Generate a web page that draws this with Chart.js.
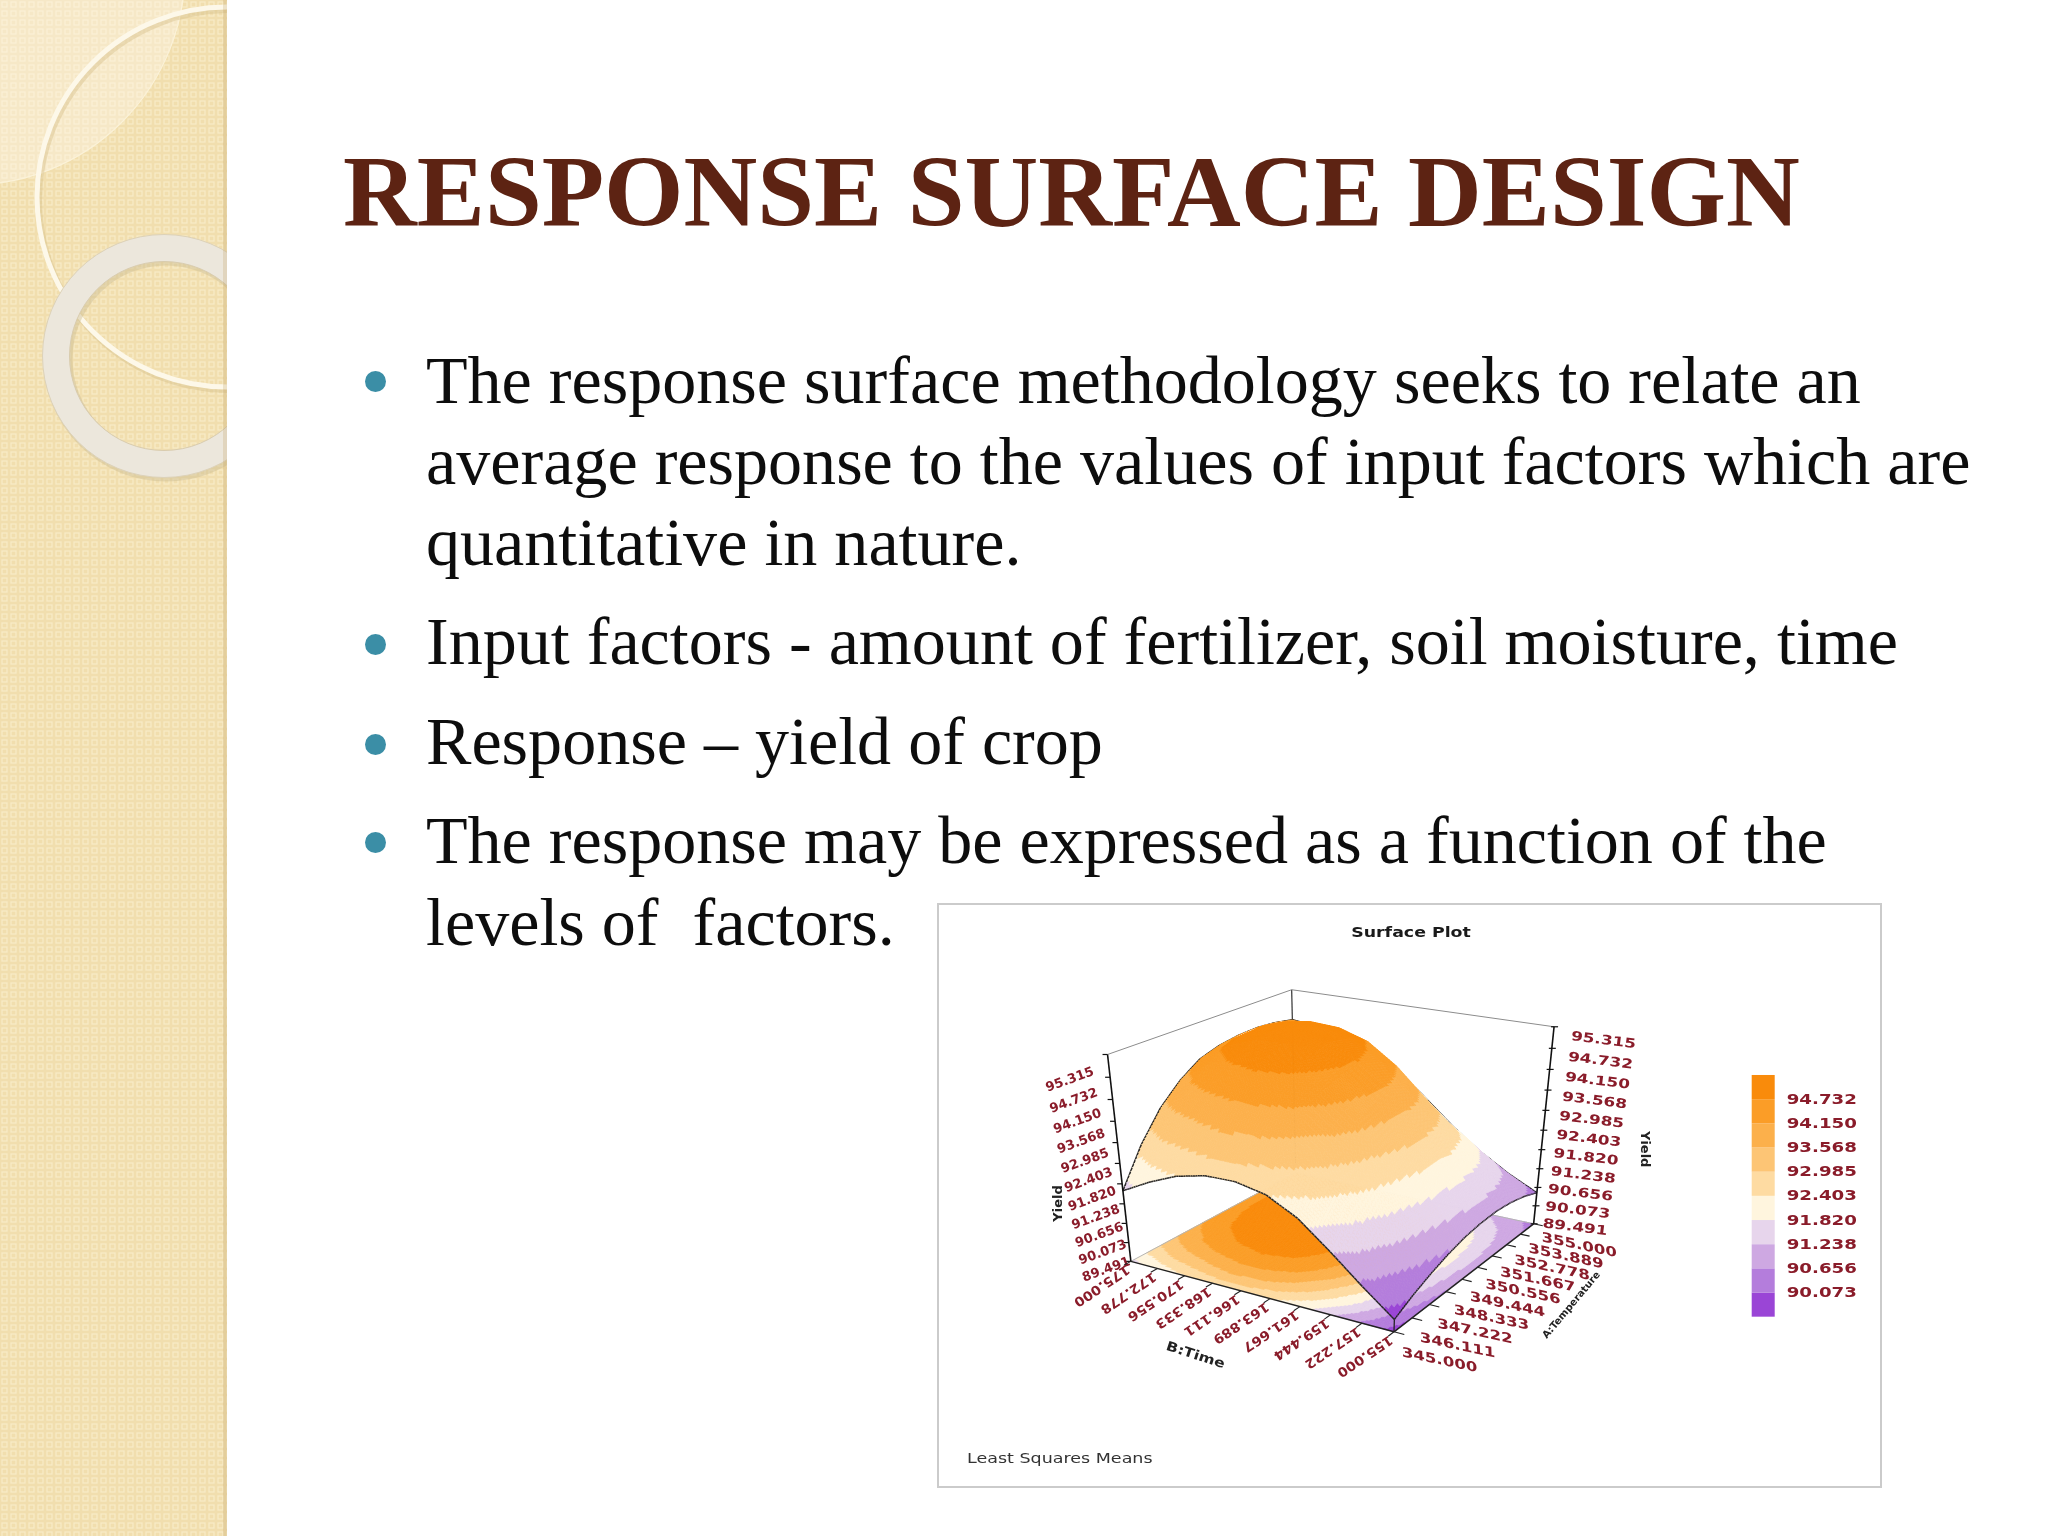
<!DOCTYPE html>
<html>
<head>
<meta charset="utf-8">
<title>Response Surface Design</title>
<script src="https://cdn.jsdelivr.net/npm/chart.js@4.4.1/dist/chart.umd.min.js"></script>
<style>
  html, body { margin: 0; padding: 0; background: #fff; }
  #slide { position: relative; width: 2048px; height: 1536px; overflow: hidden; background: #fff; }
  #strip { position: absolute; left: 0; top: 0; width: 227px; height: 1536px; }
  .txt { position: absolute; white-space: pre; line-height: 1; font-family: "Liberation Serif", "Times New Roman", serif; color: #0d0d0d; }
  #title { font-weight: bold; color: #5d2313; }
  .dot { position: absolute; width: 21px; height: 21px; border-radius: 50%; background: #3b8ea6; }
  #plotFrame { position: absolute; left: 937px; top: 903px; width: 941px; height: 581px; border: 2px solid #cbcbcb; background: #fff; }
  #plotFrame canvas { display: block; }
</style>
</head>
<body>
<div id="slide">
  <div id="strip">
    <svg width="227" height="1536" xmlns="http://www.w3.org/2000/svg">
      <defs>
        <pattern id="weave" width="9" height="9" patternUnits="userSpaceOnUse">
          <rect width="9" height="9" fill="#f1deae"/>
          <rect x="2" y="2" width="5" height="5" fill="none" stroke="#f8ebc6" stroke-width="1.3"/>
        </pattern>
      </defs>
      <rect width="227" height="1536" fill="url(#weave)"/>
      <circle cx="-30" cy="-30" r="215" fill="rgba(255,251,238,0.38)" stroke="#fbf2d8" stroke-width="1.2"/>
      <circle cx="229" cy="200" r="190" fill="none" stroke="#d6c08c" stroke-width="6" opacity="0.45"/>
      <circle cx="227" cy="197" r="190" fill="none" stroke="#fdf8e9" stroke-width="5"/>
      <circle cx="166" cy="359" r="108" fill="none" stroke="#cdbd93" stroke-width="29" opacity="0.45"/>
      <circle cx="164" cy="356" r="108" fill="none" stroke="#ece7dc" stroke-width="27"/>
      <circle cx="164" cy="356" r="94.5" fill="none" stroke="#d9ccae" stroke-width="1"/>
      <circle cx="164" cy="356" r="121.5" fill="none" stroke="#ddd2b8" stroke-width="1"/>
      <rect x="223" y="0" width="4" height="1536" fill="rgba(190,160,100,0.25)"/>
    </svg>
  </div>

  <div id="title" class="txt">RESPONSE SURFACE DESIGN</div>

  <div class="dot" style="left:365px;top:371px"></div>
  <div class="dot" style="left:365px;top:634px"></div>
  <div class="dot" style="left:365px;top:734px"></div>
  <div class="dot" style="left:365px;top:832px"></div>

  <div class="txt line" data-base="402.6">The response surface methodology seeks to relate an</div>
  <div class="txt line" data-base="484">average response to the values of input factors which are</div>
  <div class="txt line" data-base="565.5">quantitative in nature.</div>
  <div class="txt line" data-base="664.4">Input factors - amount of fertilizer, soil moisture, time</div>
  <div class="txt line" data-base="764">Response – yield of crop</div>
  <div class="txt line" data-base="863.3">The response may be expressed as a function of the</div>
  <div class="txt line" data-base="945.4">levels of  factors.</div>

  <div id="plotFrame"><canvas id="surfaceChart" width="941" height="581"></canvas></div>
</div>

<script>
// factor levels and response ticks as printed on the plot
const temperatureTicks = [345.000, 346.111, 347.222, 348.333, 349.444, 350.556, 351.667, 352.778, 353.889, 355.000];
const timeTicks = [155.000, 157.222, 159.444, 161.667, 163.889, 166.111, 168.333, 170.556, 172.778, 175.000];
const yieldTicks = [89.491, 90.073, 90.656, 91.238, 91.820, 92.403, 92.985, 93.568, 94.150, 94.732, 95.315];

// yield: one row per time level, across the temperature levels
const yieldTime155 = [89.85, 90.15, 90.40, 90.60, 90.75, 90.83, 90.85, 90.80, 90.68, 90.49];
const yieldTime157 = [90.55, 91.10, 91.50, 91.76, 91.94, 92.00, 91.92, 91.71, 91.37, 90.90];
const yieldTime159 = [91.30, 92.04, 92.52, 92.84, 93.04, 93.06, 92.90, 92.57, 92.07, 91.40];
const yieldTime162 = [92.00, 92.82, 93.39, 93.76, 93.98, 93.98, 93.77, 93.37, 92.60, 92.00];
const yieldTime164 = [92.45, 93.39, 94.05, 94.44, 94.65, 94.68, 94.50, 94.13, 93.30, 92.70];
const yieldTime166 = [92.62, 93.67, 94.40, 94.83, 95.07, 95.14, 95.00, 94.69, 93.95, 93.40];
const yieldTime168 = [92.60, 93.73, 94.50, 94.95, 95.15, 95.16, 95.16, 94.95, 94.30, 93.85];
const yieldTime171 = [92.40, 93.46, 94.28, 94.84, 95.12, 95.16, 95.15, 95.00, 94.66, 94.15];
const yieldTime173 = [92.05, 93.15, 93.97, 94.52, 94.82, 94.96, 94.98, 94.88, 94.67, 94.34];
const yieldTime175 = [91.62, 92.65, 93.42, 93.95, 94.32, 94.49, 94.57, 94.59, 94.54, 94.43];
const yieldRows = [yieldTime155, yieldTime157, yieldTime159, yieldTime162, yieldTime164,
                   yieldTime166, yieldTime168, yieldTime171, yieldTime173, yieldTime175];

// contour band colours, lowest band first
const bandColors = ['#9a45d6', '#b47ddc', '#cea8e2', '#e7d5ec', '#fff5de',
                    '#fedba2', '#fdc575', '#fcb04b', '#fb9d27', '#f98b0b'];

// ---- text layout (fit the serif text to the slide) ----
function fitSize(text, weight, target) {
  const c = document.createElement('canvas').getContext('2d');
  c.font = weight + ' 100px "Liberation Serif"';
  return 100 * target / c.measureText(text).width;
}
const titleEl = document.getElementById('title');
const titleSize = fitSize(titleEl.textContent, 'bold', 1457);
titleEl.style.fontSize = titleSize + 'px';
titleEl.style.left = '343px';
titleEl.style.top = (227 - 0.8375 * titleSize) + 'px';

const lines = document.querySelectorAll('.line');
const bodySize = fitSize(lines[0].textContent, 'normal', 1435);
lines.forEach(el => {
  el.style.fontSize = bodySize + 'px';
  el.style.left = '426px';
  el.style.top = (parseFloat(el.dataset.base) - 0.8375 * bodySize) + 'px';
});

// ---- 3D view (the printed plot is stretched sideways, so x and y scales differ) ----
const DEG = Math.PI / 180;
const view = { azimuth: 58.5, elevation: 27, distance: 4.5, height: 1.02 };
const ca = Math.cos(view.azimuth * DEG), sa = Math.sin(view.azimuth * DEG);
const ce = Math.cos(view.elevation * DEG), se = Math.sin(view.elevation * DEG);
const camRight = [ca, -sa, 0];
const camFwd = [sa * ce, ca * ce, -se];
const camUp = [sa * se, ca * se, ce];
const eye = camFwd.map(v => -v * view.distance);

// a, b, z all in 0..1 across the box
function project(a, b, z) {
  const px = a - 0.5 - eye[0], py = b - 0.5 - eye[1], pz = (z - 0.5) * view.height - eye[2];
  const d = px * camFwd[0] + py * camFwd[1] + pz * camFwd[2];
  const u = (px * camRight[0] + py * camRight[1]) / d;
  const v = (px * camUp[0] + py * camUp[1] + pz * camUp[2]) / d;
  return { u, v, d };
}

function yieldAt(a, b) {
  const ni = temperatureTicks.length - 1, nj = timeTicks.length - 1;
  const fi = a * ni, fj = b * nj;
  const i = Math.min(ni - 1, Math.floor(fi)), j = Math.min(nj - 1, Math.floor(fj));
  const ta = fi - i, tb = fj - j;
  const r0 = yieldRows[j], r1 = yieldRows[j + 1];
  return (r0[i] * (1 - ta) + r0[i + 1] * ta) * (1 - tb) + (r1[i] * (1 - ta) + r1[i + 1] * ta) * tb;
}

const SUB = 12;

const surfacePlot = {
  id: 'surfacePlot',
  afterDraw(chart) {
    const ctx = chart.ctx;
    const xs = chart.scales.x, ys = chart.scales.y, cs = chart.scales.c;
    const zLo = yieldTicks[0], zHi = yieldTicks[yieldTicks.length - 1];
    const zOf = v => (v - zLo) / (zHi - zLo);
    const pt = (a, b, z) => {
      const p = project(a, b, z);
      return [xs.getPixelForValue(p.u), ys.getPixelForValue(p.v), p.d];
    };
    const band = v => bandColors[Math.max(0, Math.min(bandColors.length - 1,
      Math.floor(zOf(v) * bandColors.length)))];

    const seg = (p, q, color, w) => {
      ctx.beginPath(); ctx.moveTo(p[0], p[1]); ctx.lineTo(q[0], q[1]);
      ctx.strokeStyle = color; ctx.lineWidth = w; ctx.stroke();
    };
    const quad = (p) => {
      ctx.beginPath(); ctx.moveTo(p[0][0], p[0][1]);
      for (let k = 1; k < 4; k++) ctx.lineTo(p[k][0], p[k][1]);
      ctx.closePath();
    };
    const area = (p) => {
      let s = 0;
      for (let k = 0; k < 4; k++) { const q = p[k], r = p[(k + 1) % 4]; s += q[0] * r[1] - r[0] * q[1]; }
      return s;
    };

    const n = (temperatureTicks.length - 1) * SUB;
    const m = (timeTicks.length - 1) * SUB;
    const vals = [], floorV = [], surfV = [];
    for (let j = 0; j <= m; j++) {
      vals.push([]); floorV.push([]); surfV.push([]);
      for (let i = 0; i <= n; i++) {
        const a = i / n, b = j / m, v = yieldAt(a, b);
        vals[j].push(v);
        floorV[j].push(pt(a, b, 0));
        surfV[j].push(pt(a, b, zOf(v)));
      }
    }

    ctx.save();
    ctx.lineJoin = 'round';

    // back of the box
    seg(pt(1, 1, 0), pt(1, 1, 1), '#333', 1.2);
    seg(pt(0, 1, 1), pt(1, 1, 1), '#8c8c8c', 1);
    seg(pt(1, 1, 1), pt(1, 0, 1), '#8c8c8c', 1);

    // contour map on the floor
    for (let j = 0; j < m; j++) {
      for (let i = 0; i < n; i++) {
        const c = band((vals[j][i] + vals[j][i + 1] + vals[j + 1][i] + vals[j + 1][i + 1]) / 4);
        quad([floorV[j][i], floorV[j][i + 1], floorV[j + 1][i + 1], floorV[j + 1][i]]);
        ctx.fillStyle = c; ctx.fill();
        ctx.strokeStyle = c; ctx.lineWidth = 0.7; ctx.stroke();
      }
    }
    seg(pt(0, 1, 0), pt(1, 1, 0), '#b5b5b5', 1);
    seg(pt(1, 1, 0), pt(1, 0, 0), '#b5b5b5', 1);

    // surface, far cells first
    const topSign = Math.sign(area([floorV[0][0], floorV[0][n], floorV[m][n], floorV[m][0]]));
    const cells = [];
    for (let j = 0; j < m; j++) {
      for (let i = 0; i < n; i++) {
        const p = [surfV[j][i], surfV[j][i + 1], surfV[j + 1][i + 1], surfV[j + 1][i]];
        cells.push({ i, j, p, d: (p[0][2] + p[1][2] + p[2][2] + p[3][2]) / 4 });
      }
    }
    cells.sort((A, B) => B.d - A.d);
    const edgeCol = '#262626';
    cells.forEach(cell => {
      const { i, j, p } = cell;
      const up = Math.sign(area(p)) === topSign;
      const c = up ? band((vals[j][i] + vals[j][i + 1] + vals[j + 1][i] + vals[j + 1][i + 1]) / 4) : '#ffffff';
      quad(p);
      ctx.fillStyle = c; ctx.fill();
      ctx.strokeStyle = c; ctx.lineWidth = 0.8; ctx.stroke();
      if (j === 0) seg(p[0], p[1], edgeCol, 1.5);
      if (j === m - 1) seg(p[3], p[2], edgeCol, 1.5);
      if (i === 0) seg(p[0], p[3], edgeCol, 1.5);
      if (i === n - 1) seg(p[1], p[2], edgeCol, 1.5);
    });

    // front of the box and its axes
    seg(pt(0, 0, 0), surfV[0][0], '#222', 1.3);
    seg(pt(0, 1, 0), pt(0, 1, 1), '#111', 1.6);
    seg(pt(1, 0, 0), pt(1, 0, 1), '#111', 1.6);
    seg(pt(0, 1, 0), pt(0, 0, 0), '#222', 1.5);
    seg(pt(0, 0, 0), pt(1, 0, 0), '#222', 1.5);

    const tickCol = '#8a1c2a';
    const label = (text, x, y, ang, o) => {
      ctx.save();
      ctx.translate(x, y);
      ctx.rotate(ang * DEG);
      if (o.skew) ctx.transform(1, 0, o.skew, 1, 0, 0);
      ctx.scale(o.stretch || 1, 1);
      ctx.font = o.font;
      ctx.fillStyle = o.color || tickCol;
      ctx.textAlign = o.align || 'left';
      ctx.textBaseline = 'middle';
      ctx.fillText(text, 0, 0);
      ctx.restore();
    };
    const tickFont = 'bold 13px "DejaVu Sans"';

    // yield axes on the two verticals (labels drift a little off the ticks, as printed)
    yieldTicks.forEach((t, k) => {
      const z = k / (yieldTicks.length - 1);
      const L = pt(0, 1, z), R = pt(1, 0, z);
      seg([L[0] - 5, L[1]], L, '#111', 1.2);
      seg([R[0] - 3, R[1]], [R[0] + 4, R[1]], '#111', 1.2);
      label(t.toFixed(3), L[0] - 1 - 1.3 * k, L[1] + 1.7 * k, -20, { font: tickFont, align: 'right' });
      label(t.toFixed(3), R[0] + 9 + 0.8 * k, R[1] + 1.0 * k, 7, { font: tickFont, stretch: 1.3 });
    });

    // time axis along the left floor edge
    timeTicks.forEach((t, k) => {
      const b = k / (timeTicks.length - 1);
      const P = pt(0, b, 0), Q = pt(-0.035, b, 0);
      seg(P, Q, '#222', 1.1);
      label(t.toFixed(3), P[0] - 3, P[1] + 6, 146, { font: tickFont, stretch: 1.08 });
    });

    // temperature axis along the right floor edge
    temperatureTicks.forEach((t, k) => {
      const a = k / (temperatureTicks.length - 1);
      const P = pt(a, 0, 0), Q = pt(a, -0.035, 0);
      seg(P, Q, '#222', 1.1);
      label(t.toFixed(3), P[0] + 8, P[1] + 21 - 7 * a, 12, { font: tickFont, stretch: 1.3, skew: 0.25 });
    });

    // axis titles
    const ttlFont = 'bold 13px "DejaVu Sans"';
    const lm = pt(0, 1, 0.5), rm = pt(1, 0, 0.5), bm = pt(0, 0.5, 0), am = pt(0.5, 0, 0);
    label('Yield', lm[0] - 61, lm[1] + 40, -90, { font: ttlFont, color: '#222', align: 'center' });
    label('Yield', rm[0] + 101, rm[1] + 19, 90, { font: ttlFont, color: '#222', align: 'center' });
    label('B:Time', bm[0] - 60, bm[1] + 61, 18, { font: ttlFont, color: '#222', align: 'center', stretch: 1.2 });
    label('A:Temperature', am[0] + 102, am[1] + 32, -50, { font: 'bold 10px "DejaVu Sans"', color: '#222', align: 'center' });

    // colour bar
    const barX = 812.7, barW = 23;
    for (let k = 0; k < bandColors.length; k++) {
      const y0 = cs.getPixelForValue(yieldTicks[k]), y1 = cs.getPixelForValue(yieldTicks[k + 1]);
      ctx.fillStyle = bandColors[k];
      ctx.fillRect(barX, y1, barW, y0 - y1);
    }
    for (let k = 1; k < yieldTicks.length - 1; k++) {
      label(yieldTicks[k].toFixed(3), barX + 35, cs.getPixelForValue(yieldTicks[k]) + 1, 0,
        { font: 'bold 14px "DejaVu Sans"', stretch: 1.3 });
    }

    // headings
    label('Surface Plot', 472, 28, 0, { font: 'bold 14px "DejaVu Sans"', color: '#1a1a1a', align: 'center', stretch: 1.24 });
    label('Least Squares Means', 28, 554, 0, { font: '14px "DejaVu Sans"', color: '#333', stretch: 1.25 });

    ctx.restore();
  }
};

new Chart(document.getElementById('surfaceChart'), {
  type: 'scatter',
  data: { datasets: [] },
  options: {
    responsive: false,
    animation: false,
    events: [],
    layout: { padding: 0 },
    scales: {
      x: { type: 'linear', min: -0.28857, max: 0.39114, display: false },
      y: { type: 'linear', min: -0.34082, max: 0.24205, display: false },
      c: { type: 'linear', axis: 'y', min: 85.411, max: 99.411, display: false }
    },
    plugins: {
      legend: { display: false },
      tooltip: { enabled: false }
    }
  },
  plugins: [surfacePlot]
});
</script>
</body>
</html>
